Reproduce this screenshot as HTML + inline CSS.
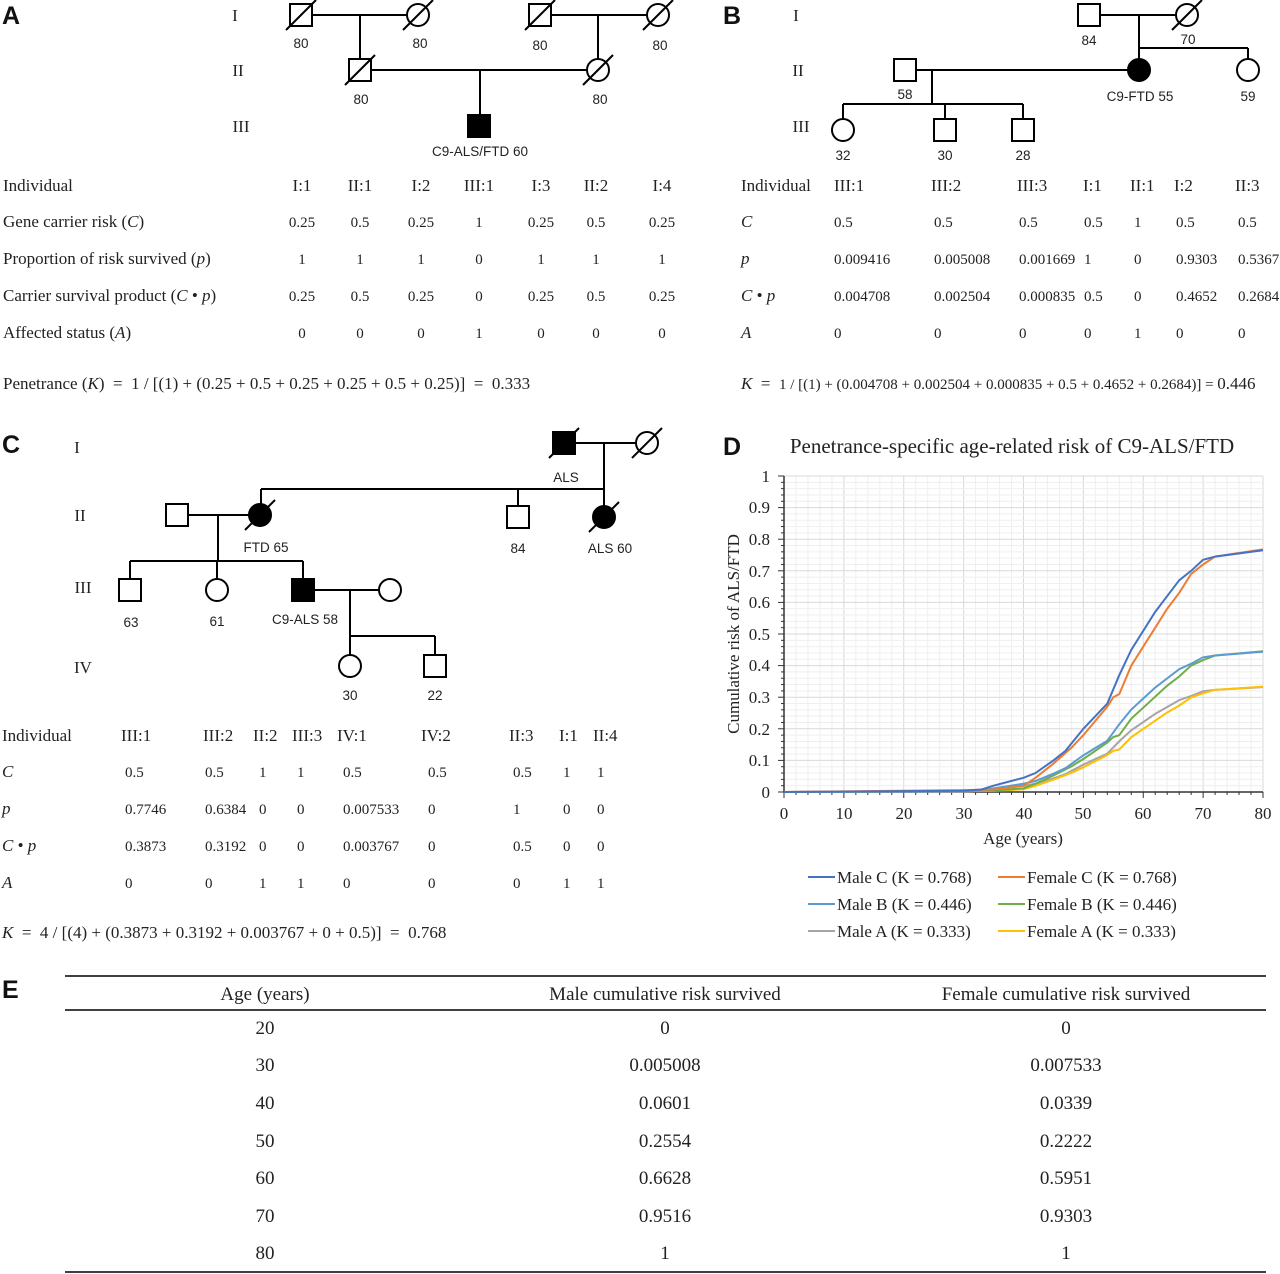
<!DOCTYPE html>
<html><head><meta charset="utf-8">
<style>
html,body{margin:0;padding:0;background:#fff;}
svg{display:block;}
text{white-space:pre;}
.t{font-family:"Liberation Serif",serif;font-size:17px;fill:#222;}
.v{font-family:"Liberation Serif",serif;font-size:15px;fill:#222;}
.h{font-family:"Liberation Serif",serif;font-size:17px;fill:#222;}
.s{font-family:"Liberation Sans",sans-serif;font-size:13.5px;fill:#222;}
.L{font-family:"Liberation Sans",sans-serif;font-size:25px;font-weight:bold;fill:#111;}
</style></head>
<body>
<svg id="g" width="1280" height="1274" viewBox="0 0 1280 1274" xmlns="http://www.w3.org/2000/svg">
<g id="shapes" stroke="#000" stroke-width="2" fill="none"></g>
<g id="chart"></g>
<text class="L" x="2" y="24">A</text>
<text class="L" x="723" y="24">B</text>
<text class="L" x="2" y="453">C</text>
<text class="L" x="723" y="455">D</text>
<text class="L" x="2" y="998">E</text>

<g class="t" text-anchor="middle"><text x="235" y="21">I</text><text x="238" y="76">II</text><text x="241" y="132">III</text></g>
<g class="s" text-anchor="middle">
<text x="301" y="48">80</text><text x="420" y="48">80</text><text x="540" y="50">80</text><text x="660" y="50">80</text>
<text x="361" y="104">80</text><text x="600" y="104">80</text>
<text x="480" y="156">C9-ALS/FTD 60</text>
</g>
<g class="t">
<text x="3" y="191">Individual</text>
<text x="3" y="227">Gene carrier risk (<tspan font-style="italic">C</tspan>)</text>
<text x="3" y="264">Proportion of risk survived (<tspan font-style="italic">p</tspan>)</text>
<text x="3" y="301">Carrier survival product (<tspan font-style="italic">C</tspan> • <tspan font-style="italic">p</tspan>)</text>
<text x="3" y="338">Affected status (<tspan font-style="italic">A</tspan>)</text>
<text x="3" y="389">Penetrance (<tspan font-style="italic">K</tspan>)  =  1 / [(1) + (0.25 + 0.5 + 0.25 + 0.25 + 0.5 + 0.25)]  =  0.333</text>
</g>
<g class="v" text-anchor="middle">
<g class="h"><text x="302" y="191">I:1</text><text x="360" y="191">II:1</text><text x="421" y="191">I:2</text><text x="479" y="191">III:1</text><text x="541" y="191">I:3</text><text x="596" y="191">II:2</text><text x="662" y="191">I:4</text></g>
<text x="302" y="227">0.25</text><text x="360" y="227">0.5</text><text x="421" y="227">0.25</text><text x="479" y="227">1</text><text x="541" y="227">0.25</text><text x="596" y="227">0.5</text><text x="662" y="227">0.25</text>
<text x="302" y="264">1</text><text x="360" y="264">1</text><text x="421" y="264">1</text><text x="479" y="264">0</text><text x="541" y="264">1</text><text x="596" y="264">1</text><text x="662" y="264">1</text>
<text x="302" y="301">0.25</text><text x="360" y="301">0.5</text><text x="421" y="301">0.25</text><text x="479" y="301">0</text><text x="541" y="301">0.25</text><text x="596" y="301">0.5</text><text x="662" y="301">0.25</text>
<text x="302" y="338">0</text><text x="360" y="338">0</text><text x="421" y="338">0</text><text x="479" y="338">1</text><text x="541" y="338">0</text><text x="596" y="338">0</text><text x="662" y="338">0</text>
</g>

<g class="t" text-anchor="middle"><text x="796" y="21">I</text><text x="798" y="76">II</text><text x="801" y="132">III</text></g>
<g class="s" text-anchor="middle">
<text x="1089" y="45">84</text><text x="1188" y="44">70</text><text x="905" y="99">58</text><text x="1140" y="101">C9-FTD 55</text><text x="1248" y="101">59</text>
<text x="843" y="160">32</text><text x="945" y="160">30</text><text x="1023" y="160">28</text>
</g>
<g class="t">
<text x="741" y="191">Individual</text>
<text x="741" y="227" font-style="italic">C</text>
<text x="741" y="264" font-style="italic">p</text>
<text x="741" y="301"><tspan font-style="italic">C</tspan> • <tspan font-style="italic">p</tspan></text>
<text x="741" y="338" font-style="italic">A</text>
<text x="741" y="389"><tspan font-style="italic">K</tspan>  =  <tspan font-size="15">1 / [(1) + (0.004708 + 0.002504 + 0.000835 + 0.5 + 0.4652 + 0.2684)] = </tspan>0.446</text>
</g>
<g class="v">
<g class="h"><text x="834" y="191">III:1</text><text x="931" y="191">III:2</text><text x="1017" y="191">III:3</text><text x="1083" y="191">I:1</text><text x="1130" y="191">II:1</text><text x="1174" y="191">I:2</text><text x="1235" y="191">II:3</text></g>
<text x="834" y="227">0.5</text><text x="934" y="227">0.5</text><text x="1019" y="227">0.5</text><text x="1084" y="227">0.5</text><text x="1134" y="227">1</text><text x="1176" y="227">0.5</text><text x="1238" y="227">0.5</text>
<text x="834" y="264">0.009416</text><text x="934" y="264">0.005008</text><text x="1019" y="264">0.001669</text><text x="1084" y="264">1</text><text x="1134" y="264">0</text><text x="1176" y="264">0.9303</text><text x="1238" y="264">0.5367</text>
<text x="834" y="301">0.004708</text><text x="934" y="301">0.002504</text><text x="1019" y="301">0.000835</text><text x="1084" y="301">0.5</text><text x="1134" y="301">0</text><text x="1176" y="301">0.4652</text><text x="1238" y="301">0.2684</text>
<text x="834" y="338">0</text><text x="934" y="338">0</text><text x="1019" y="338">0</text><text x="1084" y="338">0</text><text x="1134" y="338">1</text><text x="1176" y="338">0</text><text x="1238" y="338">0</text>
</g>

<g class="t" text-anchor="middle"><text x="77" y="453">I</text><text x="80" y="521">II</text><text x="83" y="593">III</text><text x="83" y="673">IV</text></g>
<g class="s" text-anchor="middle">
<text x="566" y="482">ALS</text><text x="266" y="552">FTD 65</text><text x="518" y="553">84</text><text x="610" y="553">ALS 60</text>
<text x="131" y="627">63</text><text x="217" y="626">61</text><text x="305" y="624">C9-ALS 58</text>
<text x="350" y="700">30</text><text x="435" y="700">22</text>
</g>
<g class="t">
<text x="2" y="741">Individual</text>
<text x="2" y="777" font-style="italic">C</text>
<text x="2" y="814" font-style="italic">p</text>
<text x="2" y="851"><tspan font-style="italic">C</tspan> • <tspan font-style="italic">p</tspan></text>
<text x="2" y="888" font-style="italic">A</text>
<text x="2" y="938"><tspan font-style="italic">K</tspan>  =  4 / [(4) + (0.3873 + 0.3192 + 0.003767 + 0 + 0.5)]  =  0.768</text>
</g>
<g class="v">
<g class="h"><text x="121" y="741">III:1</text><text x="203" y="741">III:2</text><text x="253" y="741">II:2</text><text x="292" y="741">III:3</text><text x="337" y="741">IV:1</text><text x="421" y="741">IV:2</text><text x="509" y="741">II:3</text><text x="559" y="741">I:1</text><text x="593" y="741">II:4</text></g>
<text x="125" y="777">0.5</text><text x="205" y="777">0.5</text><text x="259" y="777">1</text><text x="297" y="777">1</text><text x="343" y="777">0.5</text><text x="428" y="777">0.5</text><text x="513" y="777">0.5</text><text x="563" y="777">1</text><text x="597" y="777">1</text>
<text x="125" y="814">0.7746</text><text x="205" y="814">0.6384</text><text x="259" y="814">0</text><text x="297" y="814">0</text><text x="343" y="814">0.007533</text><text x="428" y="814">0</text><text x="513" y="814">1</text><text x="563" y="814">0</text><text x="597" y="814">0</text>
<text x="125" y="851">0.3873</text><text x="205" y="851">0.3192</text><text x="259" y="851">0</text><text x="297" y="851">0</text><text x="343" y="851">0.003767</text><text x="428" y="851">0</text><text x="513" y="851">0.5</text><text x="563" y="851">0</text><text x="597" y="851">0</text>
<text x="125" y="888">0</text><text x="205" y="888">0</text><text x="259" y="888">1</text><text x="297" y="888">1</text><text x="343" y="888">0</text><text x="428" y="888">0</text><text x="513" y="888">0</text><text x="563" y="888">1</text><text x="597" y="888">1</text>
</g>

<text x="1012" y="453" text-anchor="middle" style="font-family:'Liberation Serif',serif;font-size:21px;fill:#222">Penetrance-specific age-related risk of C9-ALS/FTD</text>
<g class="t" text-anchor="end">
<text x="770" y="798">0</text><text x="770" y="766">0.1</text><text x="770" y="735">0.2</text><text x="770" y="703">0.3</text><text x="770" y="671">0.4</text><text x="770" y="640">0.5</text><text x="770" y="608">0.6</text><text x="770" y="577">0.7</text><text x="770" y="545">0.8</text><text x="770" y="513">0.9</text><text x="770" y="482">1</text>
</g>
<g class="t" text-anchor="middle">
<text x="784" y="819">0</text><text x="844" y="819">10</text><text x="904" y="819">20</text><text x="964" y="819">30</text><text x="1024" y="819">40</text><text x="1083" y="819">50</text><text x="1143" y="819">60</text><text x="1203" y="819">70</text><text x="1263" y="819">80</text>
<text x="1023" y="844">Age (years)</text>
<text transform="translate(739,634) rotate(-90)">Cumulative risk of ALS/FTD</text>
</g>
<g class="t">
<text x="837" y="883">Male C (K = 0.768)</text><text x="1027" y="883">Female C (K = 0.768)</text>
<text x="837" y="910">Male B (K = 0.446)</text><text x="1027" y="910">Female B (K = 0.446)</text>
<text x="837" y="937">Male A (K = 0.333)</text><text x="1027" y="937">Female A (K = 0.333)</text>
</g>
<g stroke-width="2">
<line x1="808" y1="877" x2="835" y2="877" stroke="#4472c4"/><line x1="998" y1="877" x2="1025" y2="877" stroke="#ed7d31"/>
<line x1="808" y1="904" x2="835" y2="904" stroke="#5b9bd5"/><line x1="998" y1="904" x2="1025" y2="904" stroke="#70ad47"/>
<line x1="808" y1="931" x2="835" y2="931" stroke="#a5a5a5"/><line x1="998" y1="931" x2="1025" y2="931" stroke="#ffc000"/>
</g>

<g stroke="#000" stroke-width="1.5">
<line x1="65" y1="976" x2="1266" y2="976"/><line x1="65" y1="1010" x2="1266" y2="1010"/><line x1="65" y1="1272" x2="1266" y2="1272"/>
</g>
<g text-anchor="middle" style="font-family:'Liberation Serif',serif;font-size:19px;fill:#222">
<text x="265" y="1000">Age (years)</text><text x="665" y="1000">Male cumulative risk survived</text><text x="1066" y="1000">Female cumulative risk survived</text>
<text x="265" y="1034">20</text><text x="665" y="1034">0</text><text x="1066" y="1034">0</text>
<text x="265" y="1071">30</text><text x="665" y="1071">0.005008</text><text x="1066" y="1071">0.007533</text>
<text x="265" y="1109">40</text><text x="665" y="1109">0.0601</text><text x="1066" y="1109">0.0339</text>
<text x="265" y="1147">50</text><text x="665" y="1147">0.2554</text><text x="1066" y="1147">0.2222</text>
<text x="265" y="1184">60</text><text x="665" y="1184">0.6628</text><text x="1066" y="1184">0.5951</text>
<text x="265" y="1222">70</text><text x="665" y="1222">0.9516</text><text x="1066" y="1222">0.9303</text>
<text x="265" y="1259">80</text><text x="665" y="1259">1</text><text x="1066" y="1259">1</text>
</g>
</svg>
<script>
var NS="http://www.w3.org/2000/svg";
var G=document.getElementById("shapes"), C=document.getElementById("chart");
function el(p,tag,a){var e=document.createElementNS(NS,tag);for(var k in a)e.setAttribute(k,a[k]);p.appendChild(e);return e;}
function L(x1,y1,x2,y2){el(G,"line",{x1:x1,y1:y1,x2:x2,y2:y2});}
function sq(cx,cy,f,d){el(G,"rect",{x:cx-11,y:cy-11,width:22,height:22,fill:f?"#000":"#fff"});if(d)L(cx-15,cy+15,cx+15,cy-15);}
function ci(cx,cy,f,d){el(G,"circle",{cx:cx,cy:cy,r:11,fill:f?"#000":"#fff"});if(d)L(cx-15,cy+15,cx+15,cy-15);}
L(301,15,418,15);L(360,15,360,70);L(540,15,658,15);L(598,15,598,70);
L(360,70,598,70);L(480,70,480,126);
sq(301,15,0,1);ci(418,15,0,1);sq(540,15,0,1);ci(658,15,0,1);
sq(360,70,0,1);ci(598,70,0,1);sq(479,126,1,0);
L(1089,15,1187,15);L(1139,15,1139,70);L(1139,48,1248,48);L(1248,48,1248,70);
L(905,70,1139,70);L(932,70,932,104);L(843,104,1023,104);L(843,104,843,130);L(945,104,945,130);L(1023,104,1023,130);
sq(1089,15,0,0);ci(1187,15,0,1);sq(905,70,0,0);ci(1139,70,1,0);ci(1248,70,0,0);
ci(843,130,0,0);sq(945,130,0,0);sq(1023,130,0,0);
L(564,443,647,443);L(604,443,604,517);L(261,489,604,489);L(261,489,261,515);L(518,489,518,517);
L(177,515,260,515);L(218,515,218,561);L(130,561,303,561);L(130,561,130,590);L(217,561,217,590);L(303,561,303,590);
L(303,590,390,590);L(350,590,350,636);L(350,636,435,636);L(350,636,350,666);L(435,636,435,666);
sq(564,443,1,1);ci(647,443,0,1);sq(177,515,0,0);ci(260,515,1,1);sq(518,517,0,0);ci(604,517,1,1);
sq(130,590,0,0);ci(217,590,0,0);sq(303,590,1,0);ci(390,590,0,0);ci(350,666,0,0);sq(435,666,0,0);
var X0=784,X1=1263,Y0=792,Y1=476;
function px(a){return X0+(X1-X0)*a/80;} function py(v){return Y0-(Y0-Y1)*v;}
for(var a=0;a<=80;a+=2){el(C,"line",{x1:px(a),y1:Y1,x2:px(a),y2:Y0,stroke:a%10==0?"#d9d9d9":"#efefef","stroke-width":1});}
for(var i=0;i<=50;i++){var v=i/50;el(C,"line",{x1:X0,y1:py(v),x2:X1,y2:py(v),stroke:i%5==0?"#d9d9d9":"#efefef","stroke-width":1});}
el(C,"line",{x1:X0,y1:Y1,x2:X0,y2:Y0,stroke:"#333","stroke-width":1.5});
el(C,"line",{x1:X0,y1:Y0,x2:X1,y2:Y0,stroke:"#333","stroke-width":1.5});
for(var a=0;a<=80;a+=2){el(C,"line",{x1:px(a),y1:Y0,x2:px(a),y2:Y0+(a%10==0?6:3),stroke:"#333","stroke-width":1});}
for(var i=0;i<=50;i++){el(C,"line",{x1:X0-(i%5==0?6:3),y1:py(i/50),x2:X0,y2:py(i/50),stroke:"#333","stroke-width":1});}
var mC=[[0,0],[30,0.004],[33,0.008],[35,0.02],[37,0.03],[40,0.045],[42,0.06],[45,0.1],[47,0.13],[50,0.2],[52,0.24],[54,0.28],[56,0.37],[58,0.45],[60,0.51],[62,0.57],[64,0.62],[66,0.67],[68,0.70],[70,0.735],[72,0.745],[80,0.765]];
var fC=[[0,0],[30,0.006],[35,0.008],[40,0.02],[42,0.045],[45,0.09],[48,0.14],[50,0.18],[52,0.225],[54,0.27],[55,0.30],[56,0.31],[58,0.40],[60,0.46],[62,0.52],[64,0.58],[66,0.63],[68,0.69],[70,0.72],[72,0.745],[80,0.768]];
function sc(d,k){return d.map(function(p){return [p[0],p[1]*k];});}
function draw(d,c){el(C,"polyline",{points:d.map(function(p){return px(p[0])+","+py(p[1]);}).join(" "),fill:"none",stroke:c,"stroke-width":2});}
draw(sc(mC,0.434),"#a5a5a5");draw(sc(fC,0.434),"#ffc000");
draw(sc(fC,0.58),"#70ad47");draw(sc(mC,0.58),"#5b9bd5");
draw(fC,"#ed7d31");draw(mC,"#4472c4");
</script>
</body></html>
